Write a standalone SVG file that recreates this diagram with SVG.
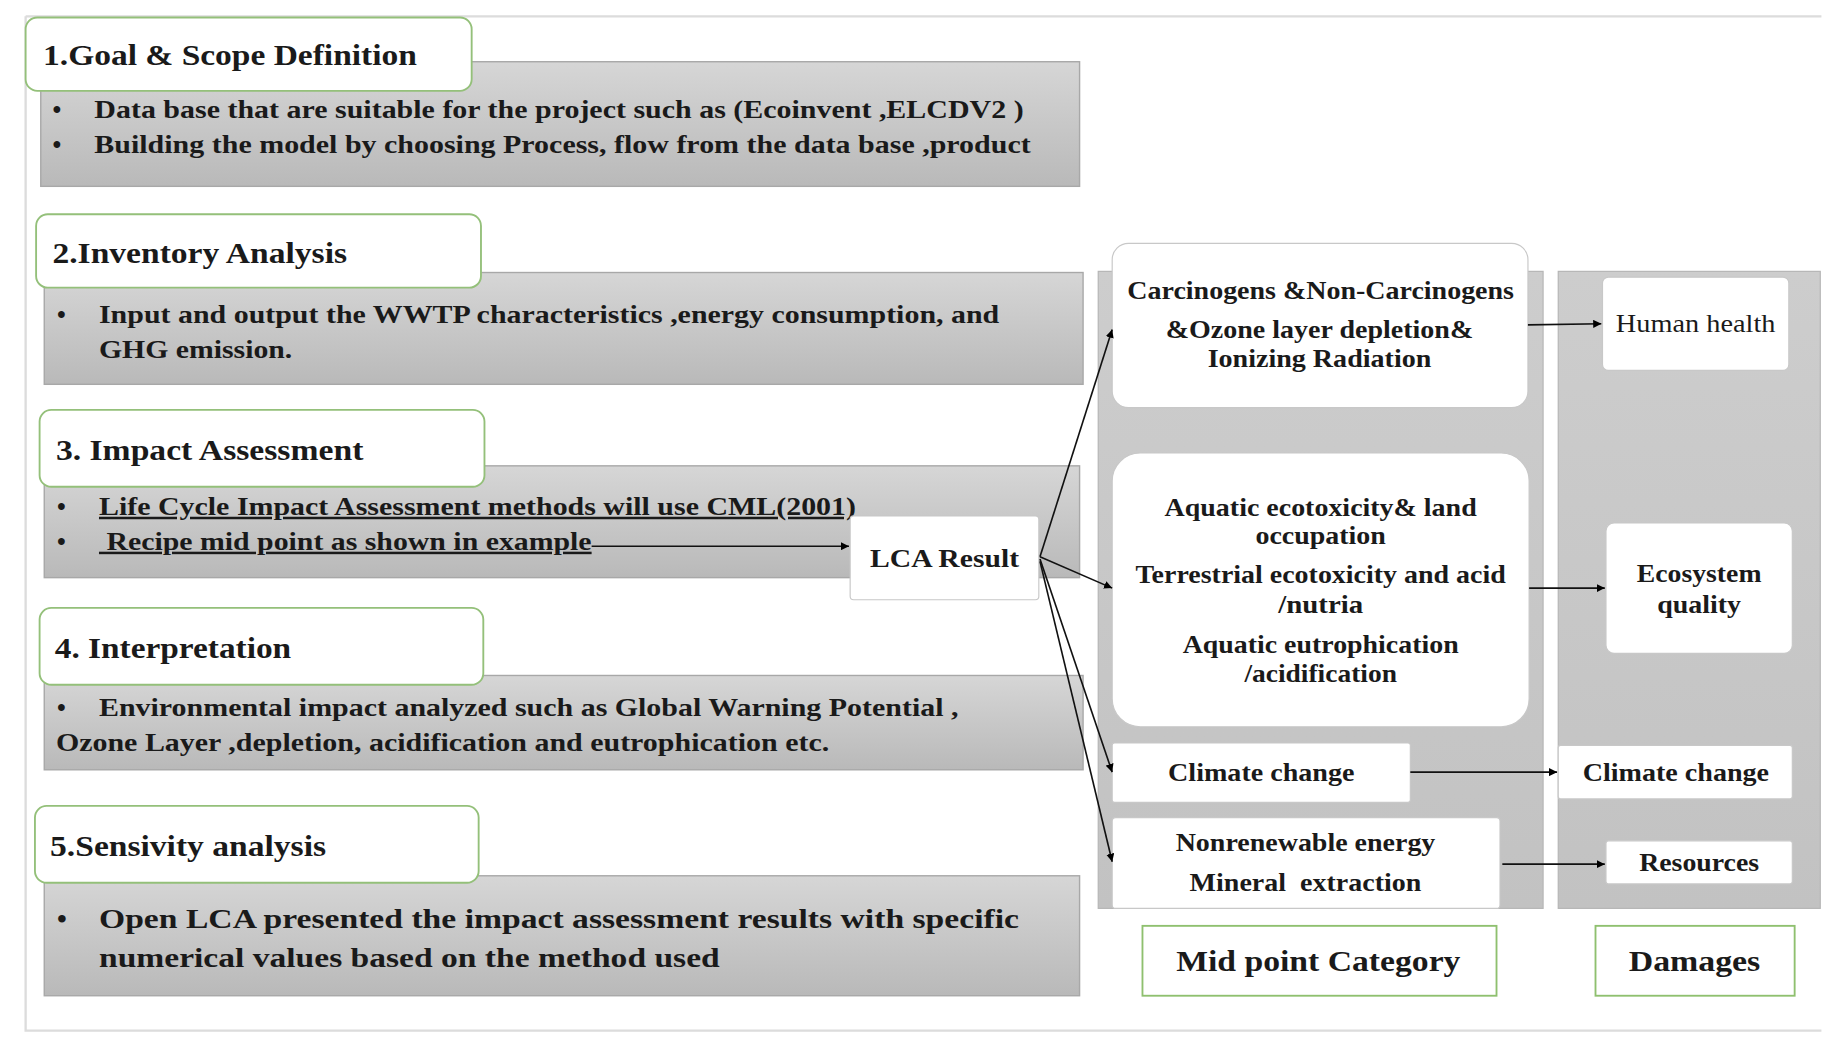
<svg xmlns="http://www.w3.org/2000/svg" width="1825" height="1037" viewBox="0 0 1825 1037">
<defs>
<linearGradient id="gbox" x1="0" y1="0" x2="0" y2="1">
<stop offset="0" stop-color="#d6d6d6"/>
<stop offset="1" stop-color="#b9b9b9"/>
</linearGradient>
<linearGradient id="gcol" x1="0" y1="0" x2="0" y2="1">
<stop offset="0" stop-color="#cdcdcd"/>
<stop offset="1" stop-color="#c2c2c2"/>
</linearGradient>
<marker id="ah" viewBox="0 0 10 10" refX="10" refY="5" markerWidth="7" markerHeight="7" markerUnits="userSpaceOnUse" orient="auto">
<path d="M0,0 L10,5 L0,10 z" fill="#000"/>
</marker>
<style>
.frame{stroke:#dcdcdc;stroke-width:2;fill:none}
.gbox{fill:url(#gbox);stroke:#a8a8a8;stroke-width:1.2}
.col{fill:url(#gcol);stroke:#b5b5b5;stroke-width:1}
.hdr{fill:#fff;stroke:#94c07a;stroke-width:1.6}
.wbox{fill:#fff;stroke:#c8c8c8;stroke-width:1}
.lbl{fill:#fff;stroke:#8fc06f;stroke-width:1.6}
text{font-family:"Liberation Serif","Times New Roman",serif;font-weight:bold;fill:#1a1a1a}
.t{font-size:25px}
.b{font-size:21.5px}
.b5{font-size:24px}
.m{font-size:21.5px;text-anchor:middle}
.reg{font-weight:normal}
.c{stroke:#111;stroke-width:1.4;fill:none;marker-end:url(#ah)}
</style>
</defs>
<rect width="1825" height="1037" fill="#fff"/>
<g transform="scale(1.1646)">
<g id="frame">
<path class="frame" d="M22,14 H1564 M22,14 V885 H1564"/>
</g>

<g id="step1">
<rect class="gbox" x="35" y="53" width="892" height="107"/>
<rect class="hdr" x="22" y="15" width="383" height="63" rx="10"/>
<text class="t" x="37" y="56" textLength="321" lengthAdjust="spacingAndGlyphs">1.Goal &amp; Scope Definition</text>
<text class="b" x="45" y="101">•</text>
<text class="b" x="81" y="101" textLength="798" lengthAdjust="spacingAndGlyphs">Data base that are suitable for the project such as (Ecoinvent ,ELCDV2 )</text>
<text class="b" x="45" y="131">•</text>
<text class="b" x="81" y="131" textLength="804" lengthAdjust="spacingAndGlyphs">Building the model by choosing Process, flow from the data base ,product</text>
</g>

<g id="step2">
<rect class="gbox" x="38" y="234" width="892" height="96"/>
<rect class="hdr" x="31" y="184" width="382" height="63" rx="10"/>
<text class="t" x="45" y="226" textLength="253" lengthAdjust="spacingAndGlyphs">2.Inventory Analysis</text>
<text class="b" x="49" y="277">•</text>
<text class="b" x="85" y="277" textLength="773" lengthAdjust="spacingAndGlyphs">Input and output the WWTP characteristics ,energy consumption, and</text>
<text class="b" x="85" y="307" textLength="166" lengthAdjust="spacingAndGlyphs">GHG emission.</text>
</g>

<g id="step3">
<rect class="gbox" x="38" y="400" width="889" height="96"/>
<rect class="hdr" x="34" y="352" width="382" height="66" rx="10"/>
<text class="t" x="48" y="395" textLength="264" lengthAdjust="spacingAndGlyphs">3. Impact Assessment</text>
<text class="b" x="49" y="442">•</text>
<text class="b" x="85" y="442" text-decoration="underline" textLength="650" lengthAdjust="spacingAndGlyphs">Life Cycle Impact Assessment methods will use CML(2001)</text>
<text class="b" x="49" y="472">•</text>
<text class="b" x="85" y="472" text-decoration="underline" textLength="423" lengthAdjust="spacingAndGlyphs" xml:space="preserve"> Recipe mid point as shown in example</text>
</g>

<g id="lca-result">
<rect class="wbox" x="730" y="443" width="162" height="72" rx="3"/>
<text class="m" x="811" y="487" textLength="128" lengthAdjust="spacingAndGlyphs">LCA Result</text>
</g>

<g id="step4">
<rect class="gbox" x="38" y="580" width="892" height="81"/>
<rect class="hdr" x="34" y="522" width="381" height="66" rx="10"/>
<text class="t" x="47" y="565" textLength="203" lengthAdjust="spacingAndGlyphs">4. Interpretation</text>
<text class="b" x="49" y="615">•</text>
<text class="b" x="85" y="615" textLength="738" lengthAdjust="spacingAndGlyphs">Environmental impact analyzed such as Global Warning Potential ,</text>
<text class="b" x="48" y="645" textLength="664" lengthAdjust="spacingAndGlyphs">Ozone Layer ,depletion, acidification and eutrophication etc.</text>
</g>

<g id="step5">
<rect class="gbox" x="38" y="752" width="889" height="103"/>
<rect class="hdr" x="30" y="692" width="381" height="66" rx="10"/>
<text class="t" x="43" y="735" textLength="237" lengthAdjust="spacingAndGlyphs">5.Sensivity analysis</text>
<text class="b5" x="49" y="797">•</text>
<text class="b5" x="85" y="797" textLength="790" lengthAdjust="spacingAndGlyphs">Open LCA presented the impact assessment results with specific</text>
<text class="b5" x="85" y="830" textLength="533" lengthAdjust="spacingAndGlyphs">numerical values based on the method used</text>
</g>

<g id="midpoint-column">
<rect class="col" x="943" y="233" width="382" height="547"/>
</g>
<g id="damages-column">
<rect class="col" x="1338" y="233" width="225" height="547"/>
</g>

<g id="mid-health">
<rect class="wbox" x="955" y="209" width="357" height="141" rx="14"/>
<text class="m" x="1134" y="257" textLength="332" lengthAdjust="spacingAndGlyphs">Carcinogens &amp;Non-Carcinogens</text>
<text class="m" x="1133" y="290" textLength="264" lengthAdjust="spacingAndGlyphs">&amp;Ozone layer depletion&amp;</text>
<text class="m" x="1133" y="315" textLength="192" lengthAdjust="spacingAndGlyphs">Ionizing Radiation</text>
</g>

<g id="mid-eco">
<rect class="wbox" x="955" y="389" width="358" height="235" rx="24"/>
<text class="m" x="1134" y="443" textLength="268" lengthAdjust="spacingAndGlyphs">Aquatic ecotoxicity&amp; land</text>
<text class="m" x="1134" y="467" textLength="112" lengthAdjust="spacingAndGlyphs">occupation</text>
<text class="m" x="1134" y="501" textLength="318" lengthAdjust="spacingAndGlyphs">Terrestrial ecotoxicity and acid</text>
<text class="m" x="1134" y="526" textLength="73" lengthAdjust="spacingAndGlyphs">/nutria</text>
<text class="m" x="1134" y="561" textLength="237" lengthAdjust="spacingAndGlyphs">Aquatic eutrophication</text>
<text class="m" x="1134" y="586" textLength="131" lengthAdjust="spacingAndGlyphs">/acidification</text>
</g>

<g id="mid-climate">
<rect class="wbox" x="955" y="638" width="256" height="51" rx="2"/>
<text class="m" x="1083" y="671" textLength="160" lengthAdjust="spacingAndGlyphs">Climate change</text>
</g>

<g id="mid-resources">
<rect class="wbox" x="955" y="702" width="333" height="78" rx="3"/>
<text class="m" x="1121" y="731" textLength="223" lengthAdjust="spacingAndGlyphs">Nonrenewable energy</text>
<text class="m" x="1121" y="765" textLength="199" lengthAdjust="spacingAndGlyphs" xml:space="preserve">Mineral  extraction</text>
</g>

<g id="dmg-human">
<rect class="wbox" x="1376" y="238" width="160" height="80" rx="5"/>
<text class="m reg" x="1456" y="285" textLength="137" lengthAdjust="spacingAndGlyphs">Human health</text>
</g>

<g id="dmg-eco">
<rect class="wbox" x="1379" y="449" width="160" height="112" rx="7"/>
<text class="m" x="1459" y="500" textLength="107" lengthAdjust="spacingAndGlyphs">Ecosystem</text>
<text class="m" x="1459" y="526" textLength="72" lengthAdjust="spacingAndGlyphs">quality</text>
</g>

<g id="dmg-climate">
<rect class="wbox" x="1338" y="640" width="201" height="46" rx="2"/>
<text class="m" x="1439" y="671" textLength="160" lengthAdjust="spacingAndGlyphs">Climate change</text>
</g>

<g id="dmg-resources">
<rect class="wbox" x="1379" y="722" width="160" height="37" rx="2"/>
<text class="m" x="1459" y="748" textLength="103" lengthAdjust="spacingAndGlyphs">Resources</text>
</g>

<g id="label-midpoint">
<rect class="lbl" x="981" y="795" width="304" height="60"/>
<text class="m" x="1132" y="834" style="font-size:25px" textLength="244" lengthAdjust="spacingAndGlyphs">Mid point Category</text>
</g>

<g id="label-damages">
<rect class="lbl" x="1370" y="795" width="171" height="60"/>
<text class="m" x="1455" y="834" style="font-size:25px" textLength="113" lengthAdjust="spacingAndGlyphs">Damages</text>
</g>

<g id="connectors">
<line class="c" x1="508" y1="469" x2="729" y2="469"/>
<line class="c" x1="893" y1="478" x2="955" y2="283"/>
<line class="c" x1="893" y1="478" x2="955" y2="505"/>
<line class="c" x1="893" y1="480" x2="955" y2="663"/>
<line class="c" x1="893" y1="482" x2="955" y2="740"/>
<line class="c" x1="1312" y1="279" x2="1375" y2="278"/>
<line class="c" x1="1313" y1="505" x2="1378" y2="505"/>
<line class="c" x1="1211" y1="663" x2="1337" y2="663"/>
<line class="c" x1="1290" y1="742" x2="1378" y2="742"/>
</g>
</g>
</svg>
